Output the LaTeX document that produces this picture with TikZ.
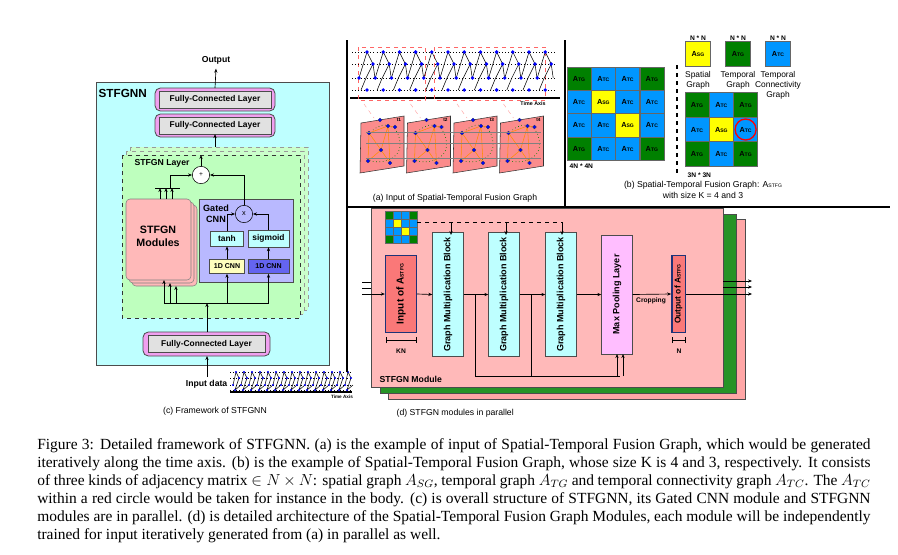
\documentclass[tikz,border=0pt]{standalone}
\usepackage{fontspec}
\setmainfont{Liberation Serif}
\newfontfamily\sff{Liberation Sans}
\usetikzlibrary{arrows.meta,calc}
\definecolor{cyanbg}{RGB}{190,255,255}
\definecolor{pinkfc}{RGB}{240,160,240}
\definecolor{grayfc}{RGB}{225,225,225}
\definecolor{greenbg}{RGB}{190,255,190}
\definecolor{salmon}{RGB}{255,185,185}
\definecolor{purp}{RGB}{185,185,255}
\definecolor{lcyan}{RGB}{190,255,255}
\definecolor{lyel}{RGB}{255,255,190}
\definecolor{blu1}{RGB}{100,100,240}
\definecolor{cTG}{RGB}{0,128,0}
\definecolor{cTC}{RGB}{0,150,255}
\definecolor{cSG}{RGB}{255,255,0}
\definecolor{redbox}{RGB}{250,120,120}
\definecolor{violetb}{RGB}{255,190,255}
\definecolor{navy}{RGB}{30,50,120}
\tikzset{
 lbl/.style={font=\sff\bfseries\fontsize{6}{7}\selectfont},
 capt/.style={font=\sff\fontsize{6.5}{8}\selectfont},
 ar/.style={-{Stealth[length=3pt,width=2.4pt]},line width=0.5pt},
 ln/.style={line width=0.5pt},
 fcout/.style={draw=black!70,fill=pinkfc,rounded corners=4pt,line width=0.6pt},
 fcin/.style={draw=black!70,fill=grayfc,line width=0.4pt,font=\sff\bfseries\fontsize{6.3}{7}\selectfont},
 mcell/.style={draw=black!60,line width=0.4pt,font=\sff\bfseries\fontsize{5.5}{6}\selectfont,inner sep=0},
 vbox/.style={draw=black!70,line width=0.5pt,font=\sff\bfseries\fontsize{6.3}{7}\selectfont},
}
\newcommand{\Asub}[1]{A{\fontsize{3.8}{4}\selectfont #1}}
\begin{document}
\begin{tikzpicture}[x=0.75pt,y=-0.75pt]
\useasboundingbox (0,0) rectangle (898,554);
\fill[white] (0,0) rectangle (898,554);
% ===== (c) =====
\node[lbl,font=\sff\bfseries\fontsize{6.5}{7}\selectfont] (outp) at (216,60) {Output};
\draw[draw=black!70,fill=cyanbg,line width=0.6pt] (96,82) rectangle (329,365);
\node[font=\sff\bfseries\fontsize{8.8}{10}\selectfont,anchor=west,inner sep=1pt] (stfgnT) at (97,93) {STFGNN};
\draw[fcout] (155,88) rectangle (275,111);
\node[fcin,minimum width=84pt,minimum height=12pt] (fc1) at (215,99.5) {Fully-Connected Layer};
\draw[fcout] (155,114) rectangle (275,137);
\node[fcin,minimum width=84pt,minimum height=12pt] (fc2) at (215,125.5) {Fully-Connected Layer};
\draw[ar] (215,88) -- (outp.south);
% STFGN layer stack
\foreach \o in {8,4}{\draw[dashed,fill=greenbg!80,draw=black!40,line width=0.5pt] (122+\o,155-\o) rectangle (300+\o,318-\o);}
\draw[dashed,fill=greenbg,draw=black!80,line width=0.6pt] (122,155) rectangle (300,318);
\draw[ar] (215,147) -- (fc2.south);
\node[lbl,font=\sff\bfseries\fontsize{6.5}{7}\selectfont] (layT) at (162,163) {STFGN Layer};
\node[circle,draw,fill=white,inner sep=0,minimum size=13pt,font=\sff\fontsize{5}{6}\selectfont] (plus) at (201,175) {+};
\draw[ar] (plus.north) -- (201,155);
% modules
\foreach \o in {6,3}{\draw[fill=salmon,draw=black!50,rounded corners=3pt] (126+\o,199+\o) rectangle (191+\o,280+\o);}
\draw[fill=salmon,draw=black!50,rounded corners=3pt] (126,199) rectangle (191,280);
\node[font=\sff\bfseries\fontsize{8}{10}\selectfont,align=center] (mods) at (158,236) {STFGN\\Modules};
\draw[ln] (155,188) -- (180,188);
\foreach \x in {160,166,172}{\draw[ar] (\x,199) -- (\x,188);}
\draw[ar] (170,188) |- (plus.west);
% gated CNN
\draw[fill=purp,draw=black!70] (199,199) rectangle (293,282);
\node[font=\sff\bfseries\fontsize{6.8}{8}\selectfont,align=center] (gT) at (216,214) {Gated\\CNN};
\node[circle,draw,fill=purp,inner sep=0,minimum size=13pt,font=\sff\fontsize{5.5}{6}\selectfont] (times) at (244,214) {x};
\node[vbox,fill=lcyan,minimum width=25pt,minimum height=9pt] (tanh) at (227,238.5) {tanh};
\node[vbox,fill=lcyan,minimum width=31pt,minimum height=9pt] (sig) at (268.5,238.5) {sigmoid};
\node[vbox,fill=lyel,minimum width=25pt,minimum height=8pt,font=\sff\bfseries\fontsize{5.3}{6}\selectfont] (cnn1) at (227,266.5) {1D CNN};
\node[vbox,fill=blu1,minimum width=31pt,minimum height=8pt,font=\sff\bfseries\fontsize{5.3}{6}\selectfont] (cnn2) at (268.5,266.5) {1D CNN};
\draw[ar] (tanh.north) |- (times.west);
\draw[ar] (sig.north) |- (times.east);
\draw[ar] (cnn1.north) -- (tanh.south);
\draw[ar] (cnn2.north) -- (sig.south);
\draw[ar] (times.north) |- (plus.east);
% bus
\coordinate (bus) at (207,303);
\draw[ln] (164,303) -- (268.5,303);
\draw[ar] (164,303) -- (164,280);
\draw[ar] (170,303) -- (170,283);
\draw[ar] (176,303) -- (176,286);
\draw[ar] (227,303) -- (cnn1.south);
\draw[ar] (268.5,303) -- (cnn2.south);
\draw[fcout] (143,332) rectangle (270,356);
\node[fcin,minimum width=88pt,minimum height=12pt] (fc3) at (206.5,344) {Fully-Connected Layer};
\draw[ar] (207,332) -- (bus);
\node[lbl,font=\sff\bfseries\fontsize{6.5}{7}\selectfont,anchor=east] (inp) at (232,384) {Input data};
\draw[ar] (207,377) -- (207,356);
% input waveform
\draw[line width=0.8pt] (230,392) -- (352,392);
\foreach \y in {372,378,385,390}{\draw[dotted,line width=0.3pt] (230,\y) -- (352,\y);}
\foreach \i in {0,...,14}{
 \pgfmathsetmacro\xa{233+\i*8}
 \draw[line width=0.4pt] (\xa,385) -- (\xa+3,372) -- (\xa+6,378) -- (\xa+2,390) -- (\xa+8,385);
 \foreach \dx/\dy in {3/372,6/378,0/385,2/390}{\fill[blue] (\xa+\dx,\dy) circle (1.1);}
}
\node[font=\sff\fontsize{3.5}{4}\selectfont\bfseries] (tax2) at (342,397) {Time Axis};
\node[capt] (capc) at (215,411) {(c) Framework of STFGNN};
% ===== separators =====
\draw[line width=0.8pt] (347,40) -- (347,372);
\draw[line width=0.8pt] (347,207) -- (890,207);
\draw[line width=0.8pt] (565,40) -- (565,207);
\draw[line width=0.8pt] (350,98) -- (560,98);
% ===== (a) =====
\draw[dashed,red!60,line width=0.4pt] (358,47) rectangle (425,100);
\draw[dashed,red!60,line width=0.4pt] (434,47) rectangle (545,100);
\foreach \y in {52,64,78,90}{\draw[dotted,line width=0.3pt] (352,\y) -- (555,\y);}
\foreach \i in {0,...,11}{
 \pgfmathsetmacro\xa{359+\i*16.2}
 \draw[line width=0.4pt] (\xa+8,52) -- (\xa+14,64) -- (\xa+7,78) -- (\xa+2,90)  (\xa,78) -- (\xa+8,52) (\xa+14,64)--(\xa+16,78);
 \foreach \dx/\dy in {8/52,14/64,0/78,8/90}{\fill[blue] (\xa+\dx,\dy) circle (1.9);}
}
\node[font=\sff\bfseries\fontsize{4}{5}\selectfont] (tax1) at (533,104) {Time Axis};
\foreach \k in {0,...,3}{
 \pgfmathsetmacro\xa{360+\k*46.5}
 \draw[dashed,red!40,line width=0.3pt] (\xa+4,104) -- (\xa+14,118);
 \draw[fill=redbox!85,draw=black!80,line width=0.4pt] (\xa+1,123) -- (\xa+44,116) -- (\xa+44,166) -- (\xa,173) -- cycle;
 \draw[dotted,green!50!black,line width=0.5pt] (\xa+13,130) .. controls (\xa+25,120) and (\xa+40,125) .. (\xa+40,145) .. controls (\xa+40,160) and (\xa+20,165) .. (\xa+8,160);
 \draw[orange!90!yellow,line width=0.4pt] (\xa+9,133) -- (\xa+28,126) -- (\xa+21,150) -- (\xa+8,161) -- (\xa+9,133) -- (\xa+21,150) -- (\xa+30,163) -- (\xa+28,126) -- (\xa+35,127);
 \foreach \dx/\dy in {9/133,28/126,35/127,21/150,8/161,30/163,20/120}{\fill[blue,draw=navy,line width=0.2pt] (\xa+\dx,\dy) circle (1.9);}
 \pgfmathtruncatemacro\kk{\k+1}
 \node[font=\sff\bfseries\fontsize{3.5}{4}\selectfont] at (\xa+39,120) {t\kk};
}
\foreach \y in {132,143,158}{\draw[gray,line width=0.4pt] (366,\y) -- (541,\y);}
\node[capt] (capa) at (455,198) {(a) Input of Spatial-Temporal Fusion Graph};
% ===== (b) =====
\foreach \t [count=\i from 0] in {TG,TC,TC,TG,TC,SG,TC,TC,TC,TC,SG,TC,TG,TC,TC,TG}{
 \pgfmathtruncatemacro\c{mod(\i,4)}\pgfmathtruncatemacro\r{\i/4}
 \node[mcell,fill=c\t,minimum width=18.2pt,minimum height=17.5pt] (m4-\i) at (579+\c*24.3,78.6+\r*23.3) {\Asub{\t}};
}
\node[lbl,font=\sff\bfseries\fontsize{5}{6}\selectfont,anchor=west] (s4) at (565,166) {4N * 4N};
\draw[dashed,line width=1pt] (677,65) -- (677,175);
\foreach \t [count=\i from 0] in {TG,TC,TG,TC,SG,TC,TG,TC,TG}{
 \pgfmathtruncatemacro\c{mod(\i,3)}\pgfmathtruncatemacro\r{\i/3}
 \node[mcell,fill=c\t,minimum width=18.2pt,minimum height=18.5pt] (m3-\i) at (697+\c*24.3,105+\r*24.5) {\Asub{\t}};
}
\draw[red,line width=1pt] (m3-5) circle (10.5);
\node[lbl,font=\sff\bfseries\fontsize{5}{6}\selectfont,anchor=west] (s3) at (683,175) {3N * 3N};
\foreach \t/\x/\txt in {SG/698/{Spatial\\Graph},TG/738/{Temporal\\Graph},TC/778/{Temporal\\Connectivity\\Graph}}{
 \node[mcell,fill=c\t,minimum size=19pt] (L\t) at (\x,54) {\Asub{\t}};
 \node[lbl,font=\sff\bfseries\fontsize{5}{6}\selectfont] at (\x,38) {N * N};
 \node[align=center,anchor=north,font=\sff\fontsize{6.3}{7.5}\selectfont] at (\x,67) {\txt};
}
\node[capt,align=center] (capb) at (703,190) {(b) Spatial-Temporal Fusion Graph: \Asub{STFG}\\with size K = 4 and 3};
% ===== (d) =====
\draw[fill=salmon!90!red,draw=black!70] (388,219) rectangle (745,399);
\draw[fill=cTG!85,draw=black!70] (380,214) rectangle (736,393);
\draw[fill=salmon,draw=black!70] (371,208) rectangle (723,387);
\foreach \t [count=\i from 0] in {TG,TC,TC,TG,TC,SG,TC,TC,TC,TC,SG,TC,TG,TC,TC,TG}{
 \pgfmathtruncatemacro\c{mod(\i,4)}\pgfmathtruncatemacro\r{\i/4}
 \node[draw=black!60,line width=0.3pt,fill=c\t,minimum size=5.8pt,inner sep=0] (ic-\i) at (389+\c*8,215+\r*8) {};
}
\node[draw=navy,line width=1.2pt,fill=redbox,minimum width=58pt,minimum height=23pt,rotate=90,font=\sff\bfseries\fontsize{7.5}{9}\selectfont] (inA) at (401,294) {Input of \Asub{STFG}};
\foreach \n/\x in {g1/448,g2/504,g3/561}{
 \node[vbox,fill=lcyan,minimum width=89pt,minimum height=23pt,rotate=90,font=\sff\bfseries\fontsize{6.8}{8}\selectfont] (\n) at (\x,294.5) {Graph Multiplication Block};
}
\node[vbox,fill=violetb,minimum width=89pt,minimum height=23pt,rotate=90,font=\sff\bfseries\fontsize{6.8}{8}\selectfont] (mp) at (617,294.5) {Max Pooling Layer};
\node[draw=navy,line width=1pt,fill=redbox,minimum width=58pt,minimum height=10pt,inner sep=0,rotate=90,font=\sff\bfseries\fontsize{6.3}{7}\selectfont] (outA) at (678.5,294) {Output of \Asub{STFG}};
\draw[ar] (inA.south) -- (g1.north);
\draw[ar] (g1.south) -- (g2.north);
\draw[ar] (g2.south) -- (g3.north);
\draw[ar] (g3.south) -- (mp.north);
\draw[ar] (mp.south) -- (outA.north);
\node[lbl,font=\sff\bfseries\fontsize{5}{6}\selectfont] (crop) at (651,301) {Cropping};
\draw[ln] (475,294) -- (475,376) -- (620,376);
\draw[ln] (531,294) -- (531,376);
\draw[ar] (617,376) -- (617,354);
\draw[ar] (623,376) -- (623,354);
\draw[dashed,ln] (ic-3.east |- 222,222) -- (562,222);
\foreach \x in {451,506,562}{\draw[ar] (\x,222) -- (\x,235);}
\draw[|-|,line width=0.4pt] (386,340) -- (417,340);
\node[lbl,font=\sff\bfseries\fontsize{5}{6}\selectfont] (kn) at (401,351) {KN};
\draw[|-|,line width=0.4pt] (672,340) -- (686,340);
\node[lbl,font=\sff\bfseries\fontsize{5}{6}\selectfont] (nn) at (679,351) {N};
\draw[ar] (362,294) -- (inA.north);
\draw[ln] (362,282) -- (371,282) (362,288) -- (371,288);
\draw[ln] (outA.south) -- (750,294);
\draw[ar] (723,294) -- (752,294);
\draw[ar] (723,287) -- (752,287);
\draw[ar] (723,281) -- (752,281);
\node[lbl,font=\sff\bfseries\fontsize{6.5}{7}\selectfont,anchor=west] (modT) at (375,379) {STFGN Module};
\node[capt,anchor=west] (capd) at (392,413) {(d) STFGN modules in parallel};
% ===== figure caption =====
\node[anchor=north west,text width=625pt,align=justify,inner sep=0,font=\fontsize{11.6}{13.5}\selectfont] (figcap) at (37,438) {Figure 3: Detailed framework of STFGNN. (a) is the example of input of Spatial-Temporal Fusion Graph, which would be generated iteratively along the time axis. (b) is the example of Spatial-Temporal Fusion Graph, whose size K is 4 and 3, respectively. It consists of three kinds of adjacency matrix $\in N\times N$: spatial graph $A_{SG}$, temporal graph $A_{TG}$ and temporal connectivity graph $A_{TC}$. The $A_{TC}$ within a red circle would be taken for instance in the body. (c) is overall structure of STFGNN, its Gated CNN module and STFGNN modules are in parallel. (d) is detailed architecture of the Spatial-Temporal Fusion Graph Modules, each module will be independently trained for input iteratively generated from (a) in parallel as well.};
\end{tikzpicture}
\end{document}
